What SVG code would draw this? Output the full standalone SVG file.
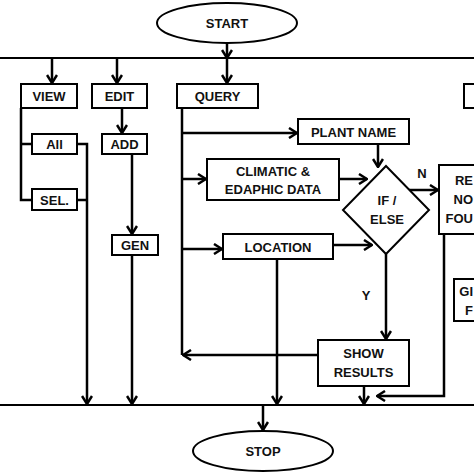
<svg xmlns="http://www.w3.org/2000/svg" width="474" height="474" viewBox="0 0 474 474">
<style>
.box{fill:#fff;stroke:#000;stroke-width:2}
.ln{fill:none;stroke:#000;stroke-width:2.5}
.bus{fill:none;stroke:#000;stroke-width:2.2}
text{font-family:"Liberation Sans",Arial,sans-serif;font-weight:bold;font-size:13px;fill:#111}
.c{text-anchor:middle}
.r{text-anchor:end}
</style>
<defs>
<marker id="a" viewBox="0 0 10 12" refX="9" refY="6" markerWidth="10" markerHeight="12" orient="auto" markerUnits="userSpaceOnUse">
<path d="M1,1 L9,6 L1,11" fill="none" stroke="#000" stroke-width="2.5"/>
</marker>
</defs>
<rect width="474" height="474" fill="#fff"/>
<g id="connectors">
<line class="bus" x1="0" y1="58" x2="474" y2="58"/>
<line class="bus" x1="0" y1="405" x2="474" y2="405"/>
<line class="ln" x1="227" y1="43" x2="227" y2="58" marker-end="url(#a)"/>
<line class="ln" x1="227" y1="58" x2="227" y2="83" marker-end="url(#a)"/>
<line class="ln" x1="52" y1="58" x2="52" y2="83" marker-end="url(#a)"/>
<line class="ln" x1="117" y1="58" x2="117" y2="83" marker-end="url(#a)"/>
<path class="ln" d="M21,108 V200 H32 M21,144 H32"/>
<path class="ln" d="M77,144 H87 V404" marker-end="url(#a)"/>
<path class="ln" d="M77,200 H87"/>
<line class="ln" x1="122" y1="108" x2="122" y2="133" marker-end="url(#a)"/>
<line class="ln" x1="132" y1="154" x2="132" y2="234" marker-end="url(#a)"/>
<line class="ln" x1="132" y1="255" x2="132" y2="404" marker-end="url(#a)"/>
<path class="ln" d="M182,108 V355"/>
<line class="ln" x1="182" y1="133" x2="297" y2="133" marker-end="url(#a)"/>
<line class="ln" x1="182" y1="179" x2="206" y2="179" marker-end="url(#a)"/>
<line class="ln" x1="182" y1="249" x2="222" y2="249" marker-end="url(#a)"/>
<line class="ln" x1="318" y1="355" x2="183" y2="355" marker-end="url(#a)"/>
<line class="ln" x1="378" y1="144" x2="378" y2="167" marker-end="url(#a)"/>
<line class="ln" x1="339" y1="179" x2="367" y2="179" marker-end="url(#a)"/>
<line class="ln" x1="333" y1="245" x2="372" y2="245" marker-end="url(#a)"/>
<line class="ln" x1="409" y1="190" x2="438" y2="190" marker-end="url(#a)"/>
<line class="ln" x1="386" y1="254" x2="386" y2="339" marker-end="url(#a)"/>
<line class="ln" x1="364" y1="386" x2="364" y2="404" marker-end="url(#a)"/>
<path class="ln" d="M444,234 V396 H377" marker-end="url(#a)"/>
<line class="ln" x1="277" y1="259" x2="277" y2="404" marker-end="url(#a)"/>
<line class="ln" x1="263" y1="405" x2="263" y2="430" marker-end="url(#a)"/>
</g>
<g id="start"><ellipse class="box" cx="227" cy="23" rx="70" ry="20"/><text class="c" x="227" y="28">START</text></g>
<g id="view"><rect class="box" x="21" y="84" width="56" height="24"/><text class="c" x="49" y="101">VIEW</text></g>
<g id="edit"><rect class="box" x="92" y="84" width="55" height="24"/><text class="c" x="119.5" y="101">EDIT</text></g>
<g id="query"><rect class="box" x="177" y="84" width="81" height="24"/><text class="c" x="217.5" y="101">QUERY</text></g>
<g id="topright"><rect class="box" x="464" y="84" width="30" height="24"/></g>
<g id="all"><rect class="box" x="32" y="134" width="45" height="20"/><text class="c" x="54.5" y="149">All</text></g>
<g id="sel"><rect class="box" x="32" y="189" width="45" height="21"/><text class="c" x="54.5" y="204.5">SEL.</text></g>
<g id="add"><rect class="box" x="102" y="134" width="45" height="20"/><text class="c" x="124.5" y="149">ADD</text></g>
<g id="gen"><rect class="box" x="112" y="235" width="46" height="20"/><text class="c" x="135" y="250">GEN</text></g>
<g id="plantname"><rect class="box" x="298" y="119" width="111" height="25"/><text class="c" x="353.5" y="136.5">PLANT NAME</text></g>
<g id="climatic"><rect class="box" x="207" y="159" width="132" height="41"/><text class="c" x="273" y="176">CLIMATIC &amp;</text><text class="c" x="273" y="194">EDAPHIC DATA</text></g>
<g id="location"><rect class="box" x="223" y="234" width="110" height="25"/><text class="c" x="278" y="251.5">LOCATION</text></g>
<g id="ifelse"><polygon class="box" points="386,166 429,210 386,254 343,210"/><text class="c" x="387" y="205">IF /</text><text class="c" x="387" y="224">ELSE</text></g>
<g id="notfound"><rect class="box" x="439" y="165" width="50" height="69"/><text class="r" x="473" y="185">RE</text><text class="r" x="473" y="204">NO</text><text class="r" x="473" y="223">FOU</text></g>
<g id="genright"><rect class="box" x="454" y="279" width="40" height="42"/><text class="r" x="473" y="296">GI</text><text class="r" x="473" y="315">F</text></g>
<g id="show"><rect class="box" x="318" y="340" width="91" height="46"/><text class="c" x="363.5" y="358">SHOW</text><text class="c" x="363.5" y="377">RESULTS</text></g>
<g id="stop"><ellipse class="box" cx="263" cy="451" rx="70" ry="20"/><text class="c" x="263" y="456">STOP</text></g>
<g id="labels"><text class="c" x="422" y="178">N</text><text class="c" x="366" y="300">Y</text></g>
</svg>
